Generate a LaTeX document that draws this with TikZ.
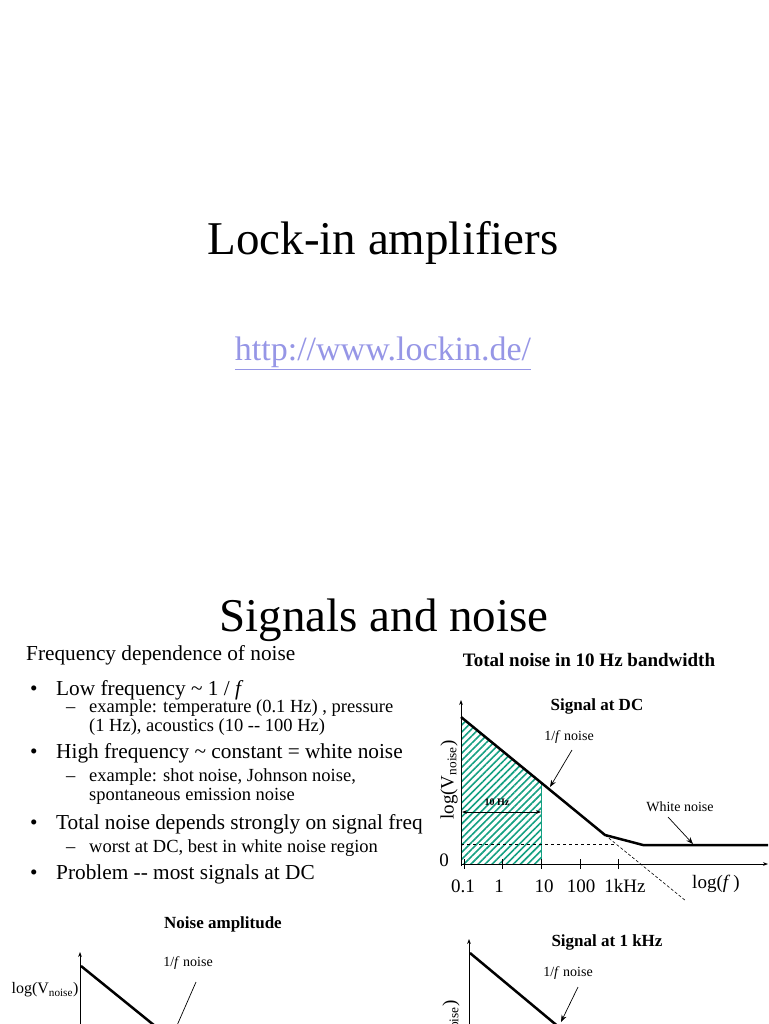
\documentclass[tikz,border=0pt]{standalone}
\usepackage{fontspec}
\setmainfont{Liberation Serif}
\usetikzlibrary{patterns.meta,arrows.meta}
\definecolor{hatch}{RGB}{20,160,130}
\definecolor{link}{RGB}{150,150,230}
\begin{document}
\begin{tikzpicture}[x=1pt,y=-1pt,
  txt/.style={inner sep=0,anchor=base west},
  lbl/.style={inner sep=0,font=\fontsize{14}{16}\selectfont},
  bold/.style={inner sep=0,font=\fontsize{17}{19}\selectfont\bfseries},
  curve/.style={line width=2.5pt},
  ax/.style={line width=0.8pt,-{Stealth[length=5pt]}},
  pt/.style={-{Stealth[length=7pt]},line width=0.7pt}]
\useasboundingbox (0,0) rectangle (768,1024);
\clip (0,0) rectangle (768,1024);
\node[inner sep=0,font=\fontsize{47}{50}\selectfont] (t1) at (383,243) {Lock-in amplifiers};
\node[inner sep=0,font=\fontsize{34}{38}\selectfont,text=link] (url) at (383,353) {\underline{http://www.lockin.de/}};
\node[inner sep=0,font=\fontsize{47}{50}\selectfont] (t2) at (384,620) {Signals and noise};
% left text
\begin{scope}[font=\fontsize{21.3}{24}\selectfont]
\node[txt] (l1) at (26,660) {Frequency dependence of noise};
\node[txt] (b1) at (30,695) {•}; \node[txt] at (56,695) {Low frequency \textasciitilde{} 1 / \textit{f}};
\node[txt] (b2) at (30,758) {•}; \node[txt] at (56,758) {High frequency \textasciitilde{} constant = white noise};
\node[txt] (b3) at (30,829) {•}; \node[txt] at (56,829) {Total noise depends strongly on signal freq};
\node[txt] (b4) at (30,879) {•}; \node[txt] at (56,879) {Problem -{}- most signals at DC};
\end{scope}
\begin{scope}[font=\fontsize{18.5}{20}\selectfont]
\node[txt] at (66,712) {–}; \node[txt] at (89,712) {example: temperature (0.1 Hz) , pressure};
\node[txt] at (89,731) {(1 Hz), acoustics (10 -{}- 100 Hz)};
\node[txt] at (66,781) {–}; \node[txt] at (89,781) {example: shot noise, Johnson noise,};
\node[txt] at (89,800) {spontaneous emission noise};
\node[txt] at (66,852) {–}; \node[txt] at (89,852) {worst at DC, best in white noise region};
\end{scope}
% main chart
\node[inner sep=0,font=\fontsize{19}{21}\selectfont\bfseries] (tn) at (589,660) {Total noise in 10 Hz bandwidth};
\node[bold] (sdc) at (597,706) {Signal at DC};
\fill[pattern={Lines[angle=45,distance=5pt,line width=1.6pt]},pattern color=hatch] (461,717) -- (541,783) -- (541,864) -- (461,864) -- cycle;
\draw[hatch,line width=0.8pt] (541,783) -- (541,864);
\draw[dashed,line width=0.6pt] (461,844) -- (615,844);
\draw[densely dashed,line width=0.6pt] (605,835) -- (686,901);
\draw[ax] (461,866) -- (461,700);
\draw[ax] (461,864) -- (768,864);
\foreach \x in {464,502,541,580,618} \draw[line width=0.8pt] (\x,859) -- (\x,869);
\draw[curve] (461,717) -- (605,835) -- (643,845) -- (768,845);
\draw[{Stealth[length=5pt]}-{Stealth[length=5pt]},line width=0.6pt] (462,812) -- (541,812);
\node[inner sep=0,font=\fontsize{10}{11}\selectfont\bfseries] (hz) at (497,802) {10 Hz};
\begin{scope}[font=\fontsize{19}{21}\selectfont]
\node[inner sep=0] at (463,886) {0.1};
\node[inner sep=0] at (499,886) {1};
\node[inner sep=0] at (544,886) {10};
\node[inner sep=0] at (581,886) {100};
\node[inner sep=0] at (625,886) {1kHz};
\node[inner sep=0] at (716,884) {log(\textit{f}\,)};
\node[inner sep=0] at (444,860) {0};
\node[inner sep=0,rotate=90] at (449,780) {log(V\textsubscript{noise})};
\end{scope}
\node[lbl] (nf) at (569,737) {1/\textit{f} noise};
\coordinate (nft) at (550,787);
\draw[pt] (572,750) -- (nft);
\node[lbl] (wn) at (680,807) {White noise};
\coordinate (wnt) at (693,844);
\draw[pt] (668,817) -- (wnt);
% bottom left
\node[bold] (na) at (223,924) {Noise amplitude};
\draw[ax] (80,1030) -- (80,952);
\draw[curve] (81,966) -- (160,1030);
\node[inner sep=0,font=\fontsize{16}{18}\selectfont] at (45,990) {log(V\textsubscript{noise})};
\node[lbl] (nf2) at (188,963) {1/\textit{f} noise};
\coordinate (nf2t) at (175,1030);
\draw[line width=0.7pt] (196,982) -- (nf2t);
% bottom right
\node[bold] (s1k) at (607,942) {Signal at 1 kHz};
\draw[ax] (469,1030) -- (469,939);
\draw[curve] (470,953) -- (560,1028);
\node[lbl] (nf3) at (568,973) {1/\textit{f} noise};
\coordinate (nf3t) at (561,1022);
\draw[pt] (578,987) -- (nf3t);
\node[inner sep=0,rotate=90,font=\fontsize{19}{21}\selectfont] at (451,1040) {log(V\textsubscript{noise})};
\end{tikzpicture}
\end{document}
